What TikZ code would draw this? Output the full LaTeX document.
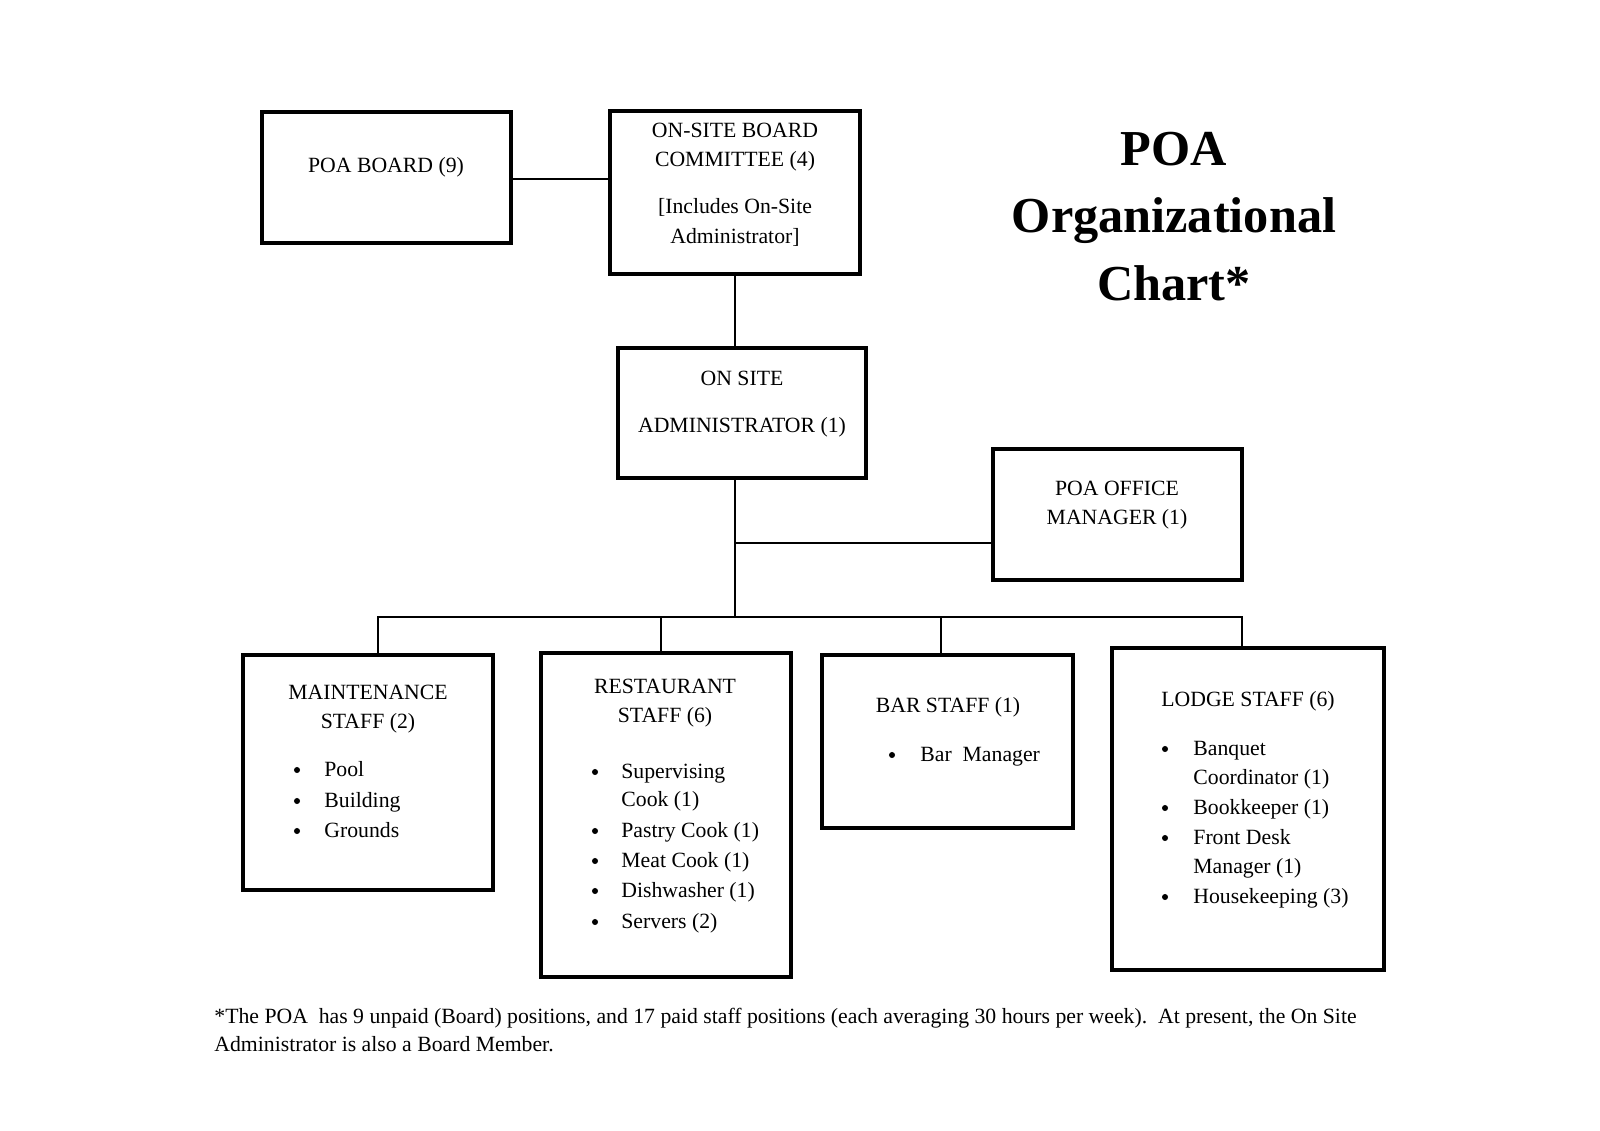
\documentclass[tikz,border=0pt]{standalone}
\usepackage{fontspec}
\setmainfont{Liberation Serif}
\usetikzlibrary{fit}
\begin{document}
\begin{tikzpicture}[x=0.4969pt,y=-0.4969pt,
  box/.style={draw, line width=1.8pt, inner sep=0pt, rectangle},
  conn/.style={line width=1.3pt},
  txt/.style={inner sep=0pt, font=\fontsize{10.8}{13}\selectfont, anchor=base},
  itm/.style={inner sep=0pt, font=\fontsize{10.8}{13}\selectfont, anchor=base west},
  bul/.style={circle, fill, inner sep=0pt, minimum size=3pt},
  ttl/.style={inner sep=0pt, font=\fontsize{25}{30}\selectfont\bfseries, anchor=base},
  foot/.style={inner sep=0pt, font=\fontsize{10.8}{13}\selectfont, anchor=base west},
]
\useasboundingbox[fill=white] (0,0) rectangle (1600,1130);

% boxes
\node[box, fit={(262,112)(511,243)}] (poaboard) {};
\node[box, fit={(610,111)(860,274)}] (committee) {};
\node[box, fit={(618,348)(866,478)}] (admin) {};
\node[box, fit={(993,449)(1242,580)}] (office) {};
\node[box, fit={(243,655)(493,890)}] (maint) {};
\node[box, fit={(541,653)(791,977)}] (rest) {};
\node[box, fit={(822,655)(1073,828)}] (bar) {};
\node[box, fit={(1112,648)(1384,970)}] (lodge) {};

% box texts
\node[txt] (tpoaboard) at (386,173) {POA BOARD (9)};
\node[txt] (tcom1) at (735,138) {ON-SITE BOARD};
\node[txt] (tcom2) at (735,167) {COMMITTEE (4)};
\node[txt] (tcom3) at (735,214) {[Includes On-Site};
\node[txt] (tcom4) at (735,243) {Administrator]};
\node[txt] (tadm1) at (742,385) {ON SITE};
\node[txt] (tadm2) at (742,432) {ADMINISTRATOR (1)};
\node[txt] (toff1) at (1117,495) {POA OFFICE};
\node[txt] (toff2) at (1117,524) {MANAGER (1)};

\node[txt] (tmnt1) at (368,699) {MAINTENANCE};
\node[txt] (tmnt2) at (368,728) {STAFF (2)};
\foreach \t/\yy [count=\i] in {Pool/776, Building/807, Grounds/837}{
  \node[bul] (mb\i) at (297,\yy-6) {};
  \node[itm] (mi\i) at (324,\yy) {\t};
}

\node[txt] (trst1) at (665,693) {RESTAURANT};
\node[txt] (trst2) at (665,722) {STAFF (6)};
\foreach \t/\yy [count=\i] in {Supervising/778, Cook (1)/806, Pastry Cook (1)/837, Meat Cook (1)/867, Dishwasher (1)/897, Servers (2)/928}{
  \node[itm] (ri\i) at (621,\yy) {\t};
}
\foreach \yy [count=\i] in {778, 837, 867, 897, 928}{
  \node[bul] (rb\i) at (595,\yy-6) {};
}

\node[txt] (tbar1) at (948,712) {BAR STAFF (1)};
\node[bul] (bb1) at (892,755) {};
\node[itm] (bi1) at (920,761) {Bar\ \ Manager};

\node[txt] (tldg1) at (1248,706) {LODGE STAFF (6)};
\foreach \t/\yy [count=\i] in {Banquet/755, Coordinator (1)/784, Bookkeeper (1)/814, Front Desk/844, Manager (1)/873, Housekeeping (3)/903}{
  \node[itm] (li\i) at (1193,\yy) {\t};
}
\foreach \yy [count=\i] in {755, 814, 844, 903}{
  \node[bul] (lb\i) at (1165,\yy-6) {};
}

% title
\node[ttl] (title1) at (1174,166) {POA};
\node[ttl] (title2) at (1174,233) {Organizational};
\node[ttl] (title3) at (1174,300) {Chart*};

% footnote
\node[foot] (foot1) at (214,1023) {*The POA\ \ has 9 unpaid (Board) positions, and 17 paid staff positions (each averaging 30 hours per week).\ \ At present, the On Site};
\node[foot] (foot2) at (214,1051) {Administrator is also a Board Member.};

% connectors
\coordinate (jPoa) at (511,179);
\coordinate (trunkTop) at (735,478);
\coordinate (jOff) at (735,543);
\coordinate (busC) at (735,617);
\coordinate (busL) at (378,617);
\coordinate (busRst) at (661,617);
\coordinate (busBar) at (941,617);
\coordinate (busR) at (1242,617);

\draw[conn] (jPoa) -- (jPoa -| committee.west);
\draw[conn] (committee.south -| trunkTop) -- (trunkTop |- admin.north);
\draw[conn] (trunkTop) -- (busC);
\draw[conn] (jOff) -- (jOff -| office.west);
\draw[conn, line cap=rect] (busL) -- (busR);
\draw[conn] (busL) -- (busL |- maint.north);
\draw[conn] (busRst) -- (busRst |- rest.north);
\draw[conn] (busBar) -- (busBar |- bar.north);
\draw[conn] (busR) -- (busR |- lodge.north);
\end{tikzpicture}
\end{document}
